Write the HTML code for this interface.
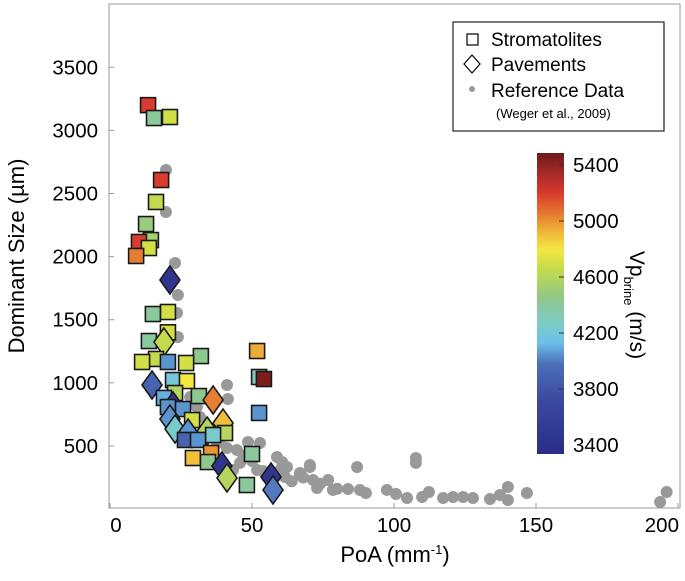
<!DOCTYPE html>
<html><head><meta charset="utf-8"><style>
html,body{margin:0;padding:0;background:#fff;}
svg{display:block;font-family:"Liberation Sans",Arial,sans-serif;}
</style></head><body>
<svg id="chart" width="685" height="581" viewBox="0 0 685 581">
<defs>
<linearGradient id="cmap" x1="0" y1="1" x2="0" y2="0">
<stop offset="0" stop-color="#2a2c85"/>
<stop offset="0.18" stop-color="#3b4a9e"/>
<stop offset="0.3" stop-color="#4d6fb8"/>
<stop offset="0.37" stop-color="#6cc0ea"/>
<stop offset="0.43" stop-color="#7ccbc8"/>
<stop offset="0.52" stop-color="#8fc889"/>
<stop offset="0.62" stop-color="#c8dc48"/>
<stop offset="0.68" stop-color="#f4e742"/>
<stop offset="0.74" stop-color="#f0b438"/>
<stop offset="0.8" stop-color="#e5782f"/>
<stop offset="0.87" stop-color="#d8382f"/>
<stop offset="1" stop-color="#6e1a1c"/>
</linearGradient>
</defs>
<rect x="109" y="4" width="571" height="504" fill="#fff" stroke="#999" stroke-width="1"/>
<g id="grid"></g>
<g id="refs"></g>
<g id="marks"></g>
<g>
<rect x="453" y="22" width="211" height="109" fill="#fff" stroke="#222" stroke-width="1.2"/>
<rect x="467" y="34" width="11" height="11" fill="none" stroke="#000" stroke-width="1.2"/>
<text x="491" y="46" font-size="19">Stromatolites</text>
<path d="M472 55 L480 64 L472 73 L464 64 Z" fill="none" stroke="#000" stroke-width="1.2"/>
<text x="491" y="71" font-size="19">Pavements</text>
<circle cx="472" cy="89" r="3" fill="#999"/>
<text x="491" y="97" font-size="19">Reference Data</text>
<text x="496" y="118" font-size="13">(Weger et al., 2009)</text>
</g>
<rect x="537" y="153" width="27" height="301" fill="url(#cmap)"/>
<g id="cbticks"></g>
<text transform="translate(630,305) rotate(90)" text-anchor="middle" font-size="21">Vp<tspan font-size="13" dy="6">brine</tspan><tspan dy="-6"> (m/s)</tspan></text>
<text transform="translate(24,256) rotate(-90)" text-anchor="middle" font-size="22">Dominant Size (µm)</text>
<text x="395" y="562" text-anchor="middle" font-size="22">PoA (mm<tspan font-size="13" dy="-8">-1</tspan><tspan dy="8">)</tspan></text>
</svg>
<script>
const xTicks=[0,50,100,150,200];
const yTicks=[500,1000,1500,2000,2500,3000,3500];
const cbTicks=[3400,3800,4200,4600,5000,5400];
const refPoA=[60.6,61.6,70.4,66.9,72.9,76.8,78.5,83.8,87,88,90.1,97.5,100.7,104.6,107.7,107.7,109.9,112.3,117.3,120.8,124.3,127.8,133.8,137.3,140.1,140.1,146.8,193.7,196,41.2,41.5,23.9,23.6,23.9,19.7,19.7,22.9,48.6,52.8,58.8,62.3,66.9,70.4,71.5,44.7,45.8,43.3,31.7,34.2,28.2,30.6,37.7,41.2,51.8,55.3,59.9,47,50,54,64,68,74,80,36,39];
const refSize=[372,254,349,270,166,230,151,158,333,151,127,151,119,87,404,365,95,135,87,95,95,87,79,111,174,71,127,55,135,983,872,1696,1553,1363,2686,2353,1949,531,523,412,333,285,333,230,468,365,309,729,650,887,808,523,483,309,254,309,420,380,300,220,250,200,160,600,560];
const stPoA=[13.4,15.5,21.1,18,16.2,12.7,13.7,14.4,10.2,9.2,15.1,20.4,13.7,20.4,11.3,16.2,20.4,26.8,32,51.8,52.5,54.2,52.5,22.2,27.1,22.9,19,31.3,20.4,25.7,28.9,40.5,36.3,26.4,31,29.2,35.6,34.5,50,48.2];
const stSize=[3200,3098,3106,2607,2433,2258,2068,2131,2116,2005,1545,1561,1331,1400,1165,1189,1165,1157,1212,1252,1046,1030,761,1022,1014,919,880,895,808,792,705,602,586,547,547,404,444,372,436,190];
const stVp=[5200,4400,4700,5200,4650,4500,4700,4550,5200,5050,4400,4700,4400,4700,4700,4650,4050,4700,4450,4950,4300,5450,4050,4200,4800,4600,4100,4450,4050,4050,4700,4600,4250,3900,4050,4900,5000,4450,4400,4400];
const pvPoA=[21.1,19,14.8,36.3,22.2,21.1,22.9,39.8,34.2,27.5,39.4,41.2,56.7,57.4];
const pvSize=[1815,1323,983,864,816,713,634,681,618,602,341,246,254,151];
const pvVp=[3450,4650,3900,5050,3500,4050,4250,4900,4600,4050,3450,4600,3450,4000];
const X=v=>110+2.84*v, Y=v=>509-0.1262*v;
const CB=v=>454-(v-3336)*(301/(5486-3336));
const NS='http://www.w3.org/2000/svg';
function mk(t,a,p){const e=document.createElementNS(NS,t);for(const k in a)e.setAttribute(k,a[k]);p.appendChild(e);return e;}
const stops=[[3336,[42,44,133]],[3720,[59,74,158]],[3980,[77,111,184]],[4130,[108,192,234]],[4260,[124,203,200]],[4460,[143,200,137]],[4670,[200,220,72]],[4800,[244,231,66]],[4930,[240,180,56]],[5060,[229,120,47]],[5210,[216,56,47]],[5486,[110,26,28]]];
function col(v){for(let i=1;i<stops.length;i++){if(v<=stops[i][0]){const a=stops[i-1],b=stops[i],t=Math.max(0,(v-a[0])/(b[0]-a[0]));return 'rgb('+a[1].map((c,j)=>Math.round(c+(b[1][j]-c)*t)).join(',')+')';}}return 'rgb(110,26,28)';}
const svg=document.getElementById('chart'),grid=document.getElementById('grid'),refs=document.getElementById('refs'),marks=document.getElementById('marks'),cbt=document.getElementById('cbticks');
xTicks.forEach((t,i)=>{
const l=mk('line',{x1:X(t),x2:X(t),y1:508,y2:503,stroke:'#999'},grid);


const last=i===xTicks.length-1;
const tx=mk('text',{x:last?679:X(t)+(t===0?6:0),y:532,'text-anchor':last?'end':'middle','font-size':20.5},grid);tx.textContent=t;


});
yTicks.forEach(t=>{
const l=mk('line',{x1:109,x2:114,y1:Y(t),y2:Y(t),stroke:'#999'},grid);


const tx=mk('text',{x:98,y:Y(t)+7,'text-anchor':'end','font-size':20.5},grid);tx.textContent=t;


});
cbTicks.forEach(t=>{
const l=mk('line',{x1:559,x2:564,y1:CB(t),y2:CB(t),stroke:'#333'},cbt);


const tx=mk('text',{x:573,y:CB(t)+7,'font-size':20.5},cbt);tx.textContent=t;


});
refPoA.forEach((p,i)=>{
const c=mk('circle',{cx:X(p),cy:Y(refSize[i]),r:6,fill:'#999'},refs);


});
const all=[];
stPoA.forEach((p,i)=>all.push(['s',p,stSize[i],stVp[i]]));
pvPoA.forEach((p,i)=>all.push(['d',p,pvSize[i],pvVp[i]]));
all.sort((a,b)=>b[2]-a[2]);
all.forEach(m=>{
const cx=X(m[1]),cy=Y(m[2]);let e;
if(m[0]==='s'){
e=mk('rect',{x:cx-7.5,y:cy-7.5,width:15,height:15,fill:col(m[3]),stroke:'#1a1a1a','stroke-width':1.6},marks);

}else{
e=mk('path',{d:`M${cx} ${cy-14}L${cx+10} ${cy}L${cx} ${cy+14}L${cx-10} ${cy}Z`,fill:col(m[3]),stroke:'#1a1a1a','stroke-width':1.6},marks);

}

});
</script>
</body></html>
